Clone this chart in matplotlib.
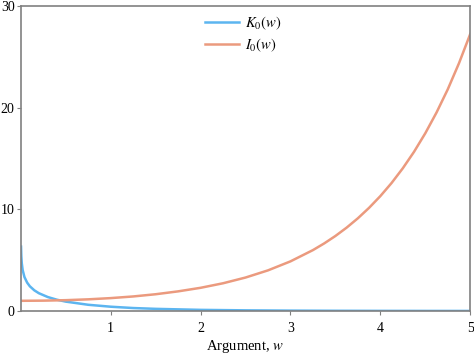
import matplotlib
matplotlib.use("Agg")
import matplotlib.pyplot as plt

plt.rcParams['font.family'] = ['Liberation Serif', 'DejaVu Serif']
plt.rcParams['mathtext.fontset'] = 'stix'

# K0(w) values
w_k = [0.002, 0.005, 0.01, 0.02, 0.04, 0.07, 0.1, 0.15, 0.2, 0.3, 0.4, 0.5,
       0.75, 1.0, 1.25, 1.5, 2.0, 2.5, 3.0, 3.5, 4.0, 4.5, 5.0]
k0 = [6.33, 5.42, 4.72, 4.03, 3.34, 2.79, 2.43, 2.03, 1.75, 1.37, 1.11, 0.92,
      0.61, 0.42, 0.29, 0.21, 0.11, 0.062, 0.035, 0.020, 0.011, 0.0064, 0.0037]

# I0(w) values
w_i = [0.0, 0.25, 0.5, 0.75, 1.0, 1.25, 1.5, 1.75, 2.0, 2.25, 2.5, 2.75, 3.0,
       3.25, 3.375, 3.5, 3.625, 3.75, 3.875, 4.0, 4.125, 4.25, 4.375, 4.5,
       4.625, 4.75, 4.875, 5.0]
i0 = [1.0, 1.016, 1.063, 1.146, 1.266, 1.429, 1.647, 1.930, 2.280, 2.727,
      3.290, 3.996, 4.881, 5.989, 6.645, 7.378, 8.200, 9.119, 10.15, 11.30,
      12.59, 14.04, 15.66, 17.48, 19.52, 21.80, 24.37, 27.24]

x_ticks = [1, 2, 3, 4, 5]
y_ticks = [0, 10, 20, 30]

fig = plt.figure(figsize=(4.74, 3.55), dpi=100)
ax = fig.add_axes([0.044, 0.124, 0.948, 0.859])

ax.plot(w_k, k0, color='#5cb5f0', lw=1.8, label=r'$K_0(w)$')
ax.plot(w_i, i0, color='#eb9a7e', lw=1.8, label=r'$I_0(w)$')

ax.set_xlim(0, 5)
ax.set_ylim(0, 30)
ax.set_xticks(x_ticks)
ax.set_yticks(y_ticks)
for s in ax.spines.values():
    s.set_color('#808080')
    s.set_linewidth(1.2)
ax.tick_params(colors='#808080', labelcolor='black', labelsize=10, length=3)
ax.tick_params(axis='y', pad=1.5)
ax.tick_params(axis='x', pad=5)
ax.set_xlabel(r'Argument, $w$', fontsize=10.5, labelpad=2)

ax.legend(loc='upper center', frameon=False, fontsize=10.5, handlelength=2.3,
          handletextpad=0.4, labelspacing=0.3, bbox_to_anchor=(0.495, 1.015))

fig.savefig('out.png', dpi=100)
